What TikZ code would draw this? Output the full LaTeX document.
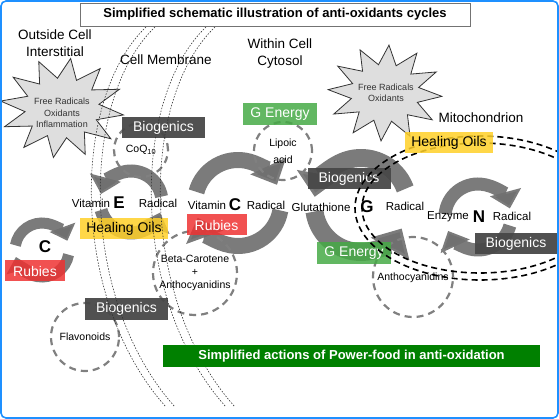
\documentclass[tikz,border=0pt]{standalone}
\usepackage{fontspec}
\setmainfont{Liberation Sans}
\usetikzlibrary{arrows.meta, calc, positioning}

\definecolor{frameblue}{RGB}{30,144,255}
\definecolor{arcgray}{RGB}{112,112,112}
\definecolor{biogray}{RGB}{72,72,72}
\definecolor{oilyellow}{RGB}{255,208,40}
\definecolor{rubyred}{RGB}{238,50,50}
\definecolor{energygreen}{RGB}{70,170,70}
\definecolor{bannergreen}{RGB}{0,128,0}
\definecolor{circgray}{RGB}{128,128,128}
\definecolor{burstgray}{RGB}{222,222,222}

\begin{document}
\begin{tikzpicture}[x=1pt, y=-1pt,
		region/.style={font=\fontsize{13.5}{17}\selectfont, align=center},
		burst/.style={fill=burstgray, draw=black!80, line width=0.8pt},
		burst_text/.style={font=\fontsize{9}{11.5}\selectfont, text=black!80, align=center},
		cyc_arrow/.style={draw=arcgray, draw opacity=0.92, line width=#1, -{Triangle[length=0pt 1.3, width=0pt 2.4]}},
		cyc_text/.style={font=\fontsize{11.5}{13}\selectfont},
		cyc_letter/.style={font=\fontsize{17}{19}\selectfont\bfseries},
		dash_circ/.style={circle, draw=circgray, line width=2.2pt, dash pattern=on 7pt off 5pt, inner sep=0pt, font=\fontsize{10.5}{13}\selectfont, align=center},
		box/.style={rectangle, inner sep=0pt, minimum height=21pt, font=\fontsize{14}{16}\selectfont},
		bio_box/.style={box, fill=biogray, fill opacity=0.95, text opacity=1, text=white, minimum width=83pt},
		oil_box/.style={box, fill=oilyellow, fill opacity=0.85, text opacity=1, minimum width=88pt},
		ruby_box/.style={box, fill=rubyred, fill opacity=0.85, text opacity=1, text=white, minimum width=60pt},
		energy_box/.style={box, fill=energygreen, fill opacity=0.85, text opacity=1, text=white, minimum width=74pt, minimum height=22pt},
		mito/.style={draw=black, line width=1.6pt, dash pattern=on 6pt off 4pt},
		membrane/.style={draw=black!80, line width=0.6pt, dash pattern=on 1.5pt off 1.5pt}
		]
		\useasboundingbox (0,0) rectangle (559,419);
		
		% Free radical bursts
		\begin{scope}[shift={(62,108)}]
			\draw[burst] plot[samples=25, domain=0:24] ({\x*15+8}:{(1-0.4*mod(\x,2))*62} and {(1-0.4*mod(\x,2))*50}) -- cycle;
		\end{scope}
		\begin{scope}[shift={(385,93)}]
			\draw[burst] plot[samples=25, domain=0:24] ({\x*15+4}:{(1-0.4*mod(\x,2))*57} and {(1-0.4*mod(\x,2))*48}) -- cycle;
		\end{scope}
		\node[burst_text] (burstA) at (62,113) {Free Radicals\\Oxidants\\Inflammation};
		\node[burst_text] (burstB) at (386,93) {Free Radicals\\Oxidants};
		
		% Regions
		\node[region] (outside) at (55,43.5) {Outside Cell\\Interstitial};
		\node[region] (membr) at (166,60) {Cell Membrane};
		\node[region] (within) at (280,53.5) {Within Cell\\Cytosol};
		\node[region] (mitotxt) at (481,118) {Mitochondrion};
		
		% Cycles
		\coordinate (cycE) at (131,202);
		\coordinate (cycCl) at (42,250);
		\coordinate (cycC) at (238,203);
		\coordinate (cycG) at (361,205);
		\coordinate (cycN) at (478,217);
		\draw[cyc_arrow=13pt] ($(cycE)+(-10:31)$) arc[start angle=-10, end angle=-165, radius=31];
		\draw[cyc_arrow=13pt] ($(cycE)+(165:31)$) arc[start angle=165, end angle=20, radius=31];
		\draw[cyc_arrow=11pt] ($(cycCl)+(190:27)$) arc[start angle=190, end angle=340, radius=27];
		\draw[cyc_arrow=11pt] ($(cycCl)+(10:27)$) arc[start angle=10, end angle=165, radius=27];
		\draw[cyc_arrow=16pt] ($(cycC)+(195:43)$) arc[start angle=195, end angle=335, radius=43];
		\draw[cyc_arrow=16pt] ($(cycC)+(10:43)$) arc[start angle=10, end angle=160, radius=43];
		\draw[cyc_arrow=18pt] ($(cycG)+(-20:47)$) arc[start angle=-20, end angle=-170, radius=47];
		\draw[cyc_arrow=18pt] ($(cycG)+(172:47)$) arc[start angle=172, end angle=30, radius=47];
		\draw[cyc_arrow=13pt] ($(cycN)+(185:33)$) arc[start angle=185, end angle=345, radius=33];
		\draw[cyc_arrow=13pt] ($(cycN)+(15:33)$) arc[start angle=15, end angle=155, radius=33];
		
		% Food sources
		\node[dash_circ, minimum size=54pt] (coq) at (141,150) {CoQ\textsubscript{10}};
		\node[dash_circ, minimum size=58pt] (lipoic) at (283,151) {Lipoic\\[4pt]acid};
		\node[dash_circ, minimum size=84pt] (beta) at (195,273) {Beta-Carotene\\+\\Anthocyanidins};
		\node[dash_circ, minimum size=68pt] (flavo) at (85,337) {Flavonoids};
		\node[dash_circ, minimum size=80pt, text depth=0pt] (antho) at (413,277) {Anthocyanidins};
		
		\node[bio_box] (bioA) at (163.5,127.5) {Biogenics};
		\node[bio_box] (bioB) at (349,179) {Biogenics};
		\node[bio_box] (bioC) at (516,244) {Biogenics};
		\node[bio_box] (bioD) at (126.5,309) {Biogenics};
		\node[energy_box] (energyA) at (280,114) {G Energy};
		\node[energy_box] (energyB) at (354,253) {G Energy};
		\node[oil_box] (oilA) at (124,228.5) {Healing Oils};
		\node[ruby_box] (rubyA) at (216.5,225) {Rubies};
		\node[ruby_box] (rubyB) at (35,271) {Rubies};
		
		% Mitochondrion
		\begin{scope}
			\clip (1,1) rectangle (557,418);
			\coordinate (mitoC) at (480,208);
			\draw[mito] (mitoC) ellipse[x radius=125, y radius=72];
			\draw[mito] (mitoC) ellipse[x radius=118, y radius=65];
		\end{scope}
		\node[oil_box] (oilB) at (449,142.5) {Healing Oils};
		
		% Cell membrane
		\draw[membrane] (146,27) .. controls (70,100) and (70,300) .. (166,407);
		\draw[membrane] (155,27) .. controls (79,100) and (79,300) .. (175,407);
		\draw[membrane] (206,27) .. controls (130,100) and (130,300) .. (226,407);
		\draw[membrane] (215,27) .. controls (139,100) and (139,300) .. (235,407);
		
		% Cycle labels
		\node[cyc_text] (vitE) at (91,203) {Vitamin};
		\node[cyc_letter] (letE) at (119,203) {E};
		\node[cyc_text] (radE) at (158,203) {Radical};
		\node[cyc_letter] (letCl) at (45,247) {C};
		\node[cyc_text] (vitC) at (207,205) {Vitamin};
		\node[cyc_letter] (letC) at (235,205) {C};
		\node[cyc_text] (radC) at (266,205) {Radical};
		\node[cyc_text] (glut) at (321,207) {Glutathione};
		\node[cyc_letter] (letG) at (367,207) {G};
		\node[cyc_text] (radG) at (405,206) {Radical};
		\node[cyc_text] (enz) at (448,217) {Enzyme};
		\node[cyc_letter] (letN) at (479,217) {N};
		\node[cyc_text] (radN) at (512,216) {Radical};
		
		% Titles
		\node[draw=black!55, line width=0.8pt, fill=white, minimum width=390pt, minimum height=23pt, inner sep=0pt, font=\fontsize{13}{15}\selectfont\bfseries] (title) at (275,14.5) {Simplified schematic illustration of anti-oxidants cycles};
		\node[fill=bannergreen, text=white, minimum width=377pt, minimum height=22pt, inner sep=0pt, font=\fontsize{13}{15}\selectfont\bfseries] (banner) at (351.5,356) {Simplified actions of Power-food in anti-oxidation};
		
		\draw[frameblue, line width=1.6pt, rounded corners=5pt] (1,1) rectangle (558,418);
	\end{tikzpicture}
\end{document}
